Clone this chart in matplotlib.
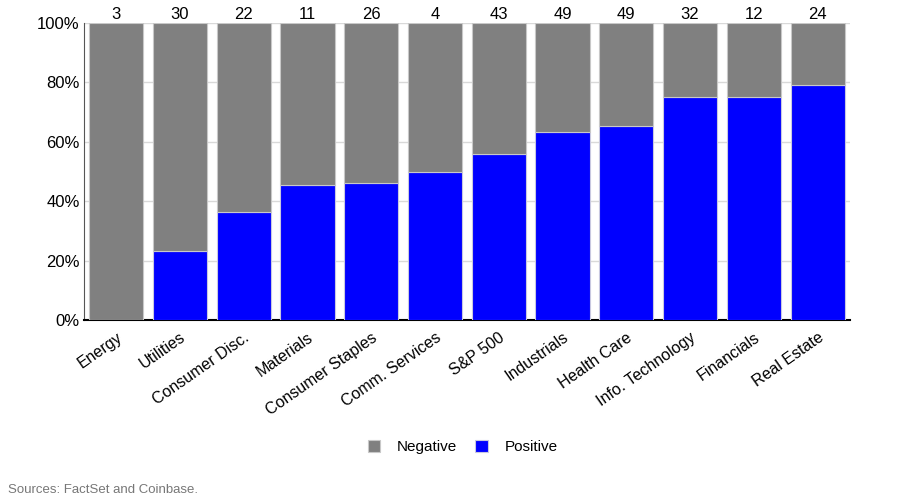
import numpy as np
import matplotlib
matplotlib.use("Agg")
import matplotlib.pyplot as plt
from matplotlib.ticker import PercentFormatter

plt.rcParams['font.family'] = ['Liberation Sans', 'DejaVu Sans']

sectors = ["Energy", "Utilities", "Consumer Disc.", "Materials", "Consumer Staples",
           "Comm. Services", "S&P 500", "Industrials", "Health Care",
           "Info. Technology", "Financials", "Real Estate"]
counts = [3, 30, 22, 11, 26, 4, 43, 49, 49, 32, 12, 24]
positive_pct = [0.0, 23.3, 36.4, 45.5, 46.2, 50.0, 55.8, 63.3, 65.3, 75.0, 75.0, 79.2]
negative_pct = [100 - p for p in positive_pct]

fig = plt.figure(figsize=(9, 5), dpi=100)
ax = fig.add_axes([0.0933, 0.36, 0.851, 0.594])

x = np.arange(len(sectors))
w = 0.85
ax.bar(x, positive_pct, width=w, color="#0000ff", edgecolor="#c8c8e0", linewidth=0.8,
       label="Positive", zorder=3)
ax.bar(x, negative_pct, width=w, bottom=positive_pct, color="#808080",
       edgecolor="#c8c8c8", linewidth=0.8, label="Negative", zorder=3)

for xi, c in zip(x, counts):
    ax.text(xi, 100.5, str(c), ha="center", va="bottom", fontsize=12)

ax.set_xlim(-0.505, len(sectors) - 0.495)
ax.set_ylim(0, 100)
ax.set_yticks([0, 20, 40, 60, 80, 100])
ax.yaxis.set_major_formatter(PercentFormatter(decimals=0))
ax.grid(axis="y", color="#d9d9d9", linewidth=1, zorder=0)
ax.set_xticks(x)
ax.set_xticklabels(sectors, rotation=35, ha="right", rotation_mode="anchor", fontsize=11.5)
ax.tick_params(axis="x", length=0, pad=7)
ax.tick_params(axis="y", length=0, labelsize=12, pad=3)
for s in ["top", "right"]:
    ax.spines[s].set_visible(False)
ax.spines["left"].set_color("#555555")
ax.spines["bottom"].set_color("black")
ax.spines["bottom"].set_linewidth(1.5)

handles, labels = ax.get_legend_handles_labels()
fig.legend(handles[::-1], labels[::-1], loc="center", bbox_to_anchor=(0.514, 0.106),
           ncol=2, frameon=False, fontsize=11, handlelength=0.8, handleheight=0.8,
           columnspacing=1.2, handletextpad=1.1)

fig.text(0.009, 0.014, "Sources: FactSet and Coinbase.", fontsize=9.5, color="#777777")

fig.savefig("out.png", dpi=100)
